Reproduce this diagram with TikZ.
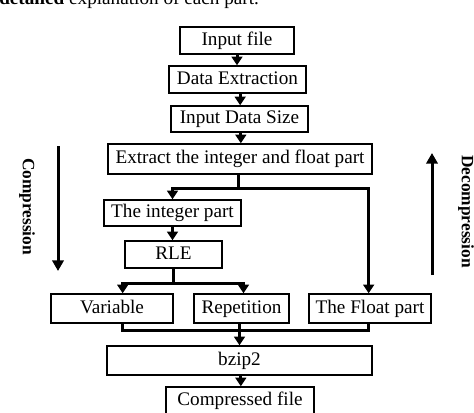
\documentclass[tikz,border=0pt]{standalone}
\usepackage{fontspec}
\setmainfont{Liberation Serif}
\usetikzlibrary{arrows.meta}

\tikzset{
  box/.style={draw, line width=1pt, inner sep=0pt, text height=10pt, text depth=3pt, font=\fontsize{14.4}{16}\selectfont},
  flow/.style={line width=2.25pt, -{Triangle[width=8pt,length=6.5pt]}},
  flowtwo/.style={line width=2.25pt, {Triangle[width=8pt,length=6.5pt]}-{Triangle[width=8pt,length=6.5pt]}},
  link/.style={line width=2.25pt},
  side/.style={line width=2.25pt, -{Triangle[width=8.5pt,length=8pt]}},
  sidelabel/.style={rotate=-90, font=\fontsize{13}{15}\selectfont\bfseries}
}

\begin{document}
\begin{tikzpicture}[x=0.75pt,y=0.75pt,yscale=-1,xscale=1]
    \useasboundingbox (0,0) rectangle (474,412);
    \clip (0,0) rectangle (474,412);

    % Text above the figure
    \node (caption) [anchor=base west, inner sep=0pt, font=\fontsize{14.4}{16}\selectfont] at (-1,4) {\textbf{detailed} explanation of each part.};

    % Boxes
    \node (infile) [box, minimum width=85.5pt, minimum height=20.25pt] at (237,40.5) {Input file};
    \node (extract) [box, minimum width=102.75pt, minimum height=20.25pt] at (237.5,79.5) {Data Extraction};
    \node (size) [box, minimum width=102.75pt, minimum height=19.5pt] at (239.5,119) {Input Data Size};
    \node (split) [box, minimum width=198pt, minimum height=22.5pt] at (240,159) {Extract the integer and float part};
    \node (intpart) [box, minimum width=102.75pt, minimum height=19.5pt] at (172.5,213) {The integer part};
    \node (rle) [box, minimum width=72.75pt, minimum height=20.25pt] at (173.5,254.5) {RLE};
    \node (variable) [box, minimum width=91.5pt, minimum height=21.75pt] at (112,308.5) {Variable};
    \node (repetition) [box, minimum width=71.25pt, minimum height=21.75pt] at (241.5,308.5) {Repetition};
    \node (floatpart) [box, minimum width=91.5pt, minimum height=21.75pt] at (370,308.5) {The Float part};
    \node (bzip) [box, minimum width=198.75pt, minimum height=21.75pt] at (239.5,360.5) {bzip2};
    \node (compressed) [box, minimum width=111pt, minimum height=21pt] at (240,401) {Compressed file};

    % Straight arrows
    \draw [flow] (infile.south) -- (infile.south |- extract.north);
    \draw [flow] ([xshift=2]extract.south) -- ([xshift=2]extract.south |- size.north);
    \draw [flow] ([xshift=1]size.south) -- ([xshift=1]size.south |- split.north);
    \draw [flow] (intpart.south) -- (intpart.south |- rle.north);
    \draw [flow] ([xshift=1]bzip.south) -- ([xshift=1]bzip.south |- compressed.north);

    % Split into integer and float part
    \coordinate (forkA) at ([xshift=-1,yshift=10]split.south);
    \draw [link] (split.south -| forkA) -- (forkA);
    \draw [flowtwo] (intpart.north) |- (forkA) -| ([xshift=-1]floatpart.north);

    % RLE into variable and repetition
    \coordinate (forkB) at ([yshift=11]rle.south);
    \draw [link] (rle.south) -- (forkB);
    \draw [flowtwo] ([xshift=8]variable.north) |- (forkB) -| ([xshift=1.5]repetition.north);

    % Merge into bzip2
    \coordinate (merge) at ([yshift=5]repetition.south -| bzip.north);
    \draw [link] ([xshift=8]variable.south) |- (merge) -| ([xshift=-1]floatpart.south);
    \draw [flow] (repetition.south -| bzip.north) -- (bzip.north);

    % Direction arrows
    \coordinate (compTop) at (58,146);
    \coordinate (compEnd) at (58,271);
    \draw [side] (compTop) -- (compEnd);
    \node (complabel) [sidelabel] at (27,206.5) {Compression};

    \coordinate (decompBot) at (432,275);
    \coordinate (decompTop) at (432,153);
    \draw [side] (decompBot) -- (decompTop);
    \node (decomplabel) [sidelabel] at (466,211.5) {Decompression};
\end{tikzpicture}
\end{document}
